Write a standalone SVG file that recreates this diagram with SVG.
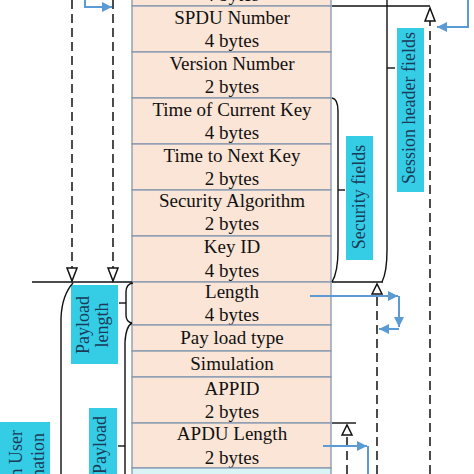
<svg xmlns="http://www.w3.org/2000/svg" width="474" height="474" viewBox="0 0 474 474">
<style>
.cell{fill:#FBE5D6;stroke:#8497B0;stroke-width:1.3}
.cellc{fill:#DAF3F5;stroke:#8497B0;stroke-width:1.3}
.t{font-family:"Liberation Serif","Times New Roman",serif;font-size:19px;fill:#111;text-anchor:middle}
.lbl{fill:#35CDE6}
.lt{font-family:"Liberation Serif","Times New Roman",serif;font-size:18px;fill:#1B3A57;text-anchor:middle}
.blk{fill:none;stroke:#111;stroke-width:1.4}
.dash{fill:none;stroke:#111;stroke-width:1.5;stroke-dasharray:9 5}
.blue{fill:none;stroke:#5B9BD5;stroke-width:2}
</style>
<defs>
<marker id="ab" markerUnits="userSpaceOnUse" markerWidth="12" markerHeight="10" refX="10" refY="5" orient="auto">
<path d="M0,0 L10,5 L0,10 z" fill="#5B9BD5"/>
</marker>
<marker id="tri" markerUnits="userSpaceOnUse" markerWidth="16" markerHeight="14" refX="14" refY="6" orient="auto">
<path d="M1,1 L14,6 L1,11 z" fill="#fff" stroke="#111" stroke-width="1.5"/>
</marker>
<marker id="tris" markerUnits="userSpaceOnUse" markerWidth="14" markerHeight="14" refX="11" refY="6" orient="auto">
<path d="M1,1 L11,6 L1,11 z" fill="#fff" stroke="#111" stroke-width="1.5"/>
</marker>
</defs>

<g id="row-prev"><rect class="cell" x="132" y="-40" width="199" height="46"/><text class="t" x="232" y="1">4 bytes</text></g>
<g id="row-spdu"><rect class="cell" x="132" y="6" width="199" height="46"/><text class="t" x="232" y="23.5">SPDU Number</text><text class="t" x="232" y="46.5">4 bytes</text></g>
<g id="row-version"><rect class="cell" x="132" y="52" width="199" height="46"/><text class="t" x="232" y="69.5">Version Number</text><text class="t" x="232" y="92.5">2 bytes</text></g>
<g id="row-tck"><rect class="cell" x="132" y="98" width="199" height="46"/><text class="t" x="232" y="115.5">Time of Current Key</text><text class="t" x="232" y="138.5">4 bytes</text></g>
<g id="row-tnk"><rect class="cell" x="132" y="144" width="199" height="46"/><text class="t" x="232" y="161.5">Time to Next Key</text><text class="t" x="232" y="184.5">2 bytes</text></g>
<g id="row-secalg"><rect class="cell" x="132" y="190" width="199" height="46"/><text class="t" x="232" y="207">Security Algorithm</text><text class="t" x="232" y="230">2 bytes</text></g>
<g id="row-keyid"><rect class="cell" x="132" y="236" width="199" height="46"/><text class="t" x="232" y="252.5">Key ID</text><text class="t" x="232" y="276.5">4 bytes</text></g>
<g id="row-length"><rect class="cell" x="132" y="282" width="199" height="43"/><text class="t" x="232" y="297.5">Length</text><text class="t" x="232" y="321">4 bytes</text></g>
<g id="row-ptype"><rect class="cell" x="132" y="325" width="199" height="26"/><text class="t" x="232" y="344">Pay load type</text></g>
<g id="row-sim"><rect class="cell" x="132" y="351" width="199" height="26"/><text class="t" x="232" y="370">Simulation</text></g>
<g id="row-appid"><rect class="cell" x="132" y="377" width="199" height="46"/><text class="t" x="232" y="395">APPID</text><text class="t" x="232" y="418">2 bytes</text></g>
<g id="row-apdulen"><rect class="cell" x="132" y="423" width="199" height="45"/><text class="t" x="232" y="440">APDU Length</text><text class="t" x="232" y="464">2 bytes</text></g>
<g id="row-next"><rect class="cellc" x="132" y="468" width="199" height="20"/></g>

<g id="label-session"><rect class="lbl" x="397" y="28" width="27" height="164"/><text class="lt" transform="translate(0,108) rotate(-90)" x="0" y="415">Session header fields</text></g>
<g id="label-security"><rect class="lbl" x="346" y="136" width="27" height="124"/><text class="lt" transform="translate(0,197) rotate(-90)" x="0" y="365">Security fields</text></g>
<g id="label-paylen"><rect class="lbl" x="71" y="285" width="47" height="79"/><text class="lt" transform="translate(0,325) rotate(-90)" x="0" y="89">Payload</text><text class="lt" transform="translate(0,325) rotate(-90)" x="0" y="108">length</text></g>
<g id="label-payload"><rect class="lbl" x="89" y="408" width="28" height="80"/><text class="lt" transform="translate(0,474) rotate(-90)" x="0" y="106" style="text-anchor:start">Payload</text></g>
<g id="label-appuser"><rect class="lbl" x="-10" y="422" width="60" height="66"/><text class="lt" transform="translate(0,430) rotate(-90)" x="0" y="22" style="text-anchor:end">n User</text><text class="lt" transform="translate(0,433) rotate(-90)" x="0" y="44" style="text-anchor:end">mation</text></g>

<g id="connectors">
<path class="blk" d="M332,6 H430"/>
<path class="blk" d="M32,282 H132"/>
<path class="blk" d="M332,282 H383"/>
<path class="blk" d="M332,423 H356"/>
<path class="blk" d="M387,0 V250 Q387,272 382,282"/>
<path class="blk" d="M387,68 H395"/>
<path class="blk" d="M332,98 Q338,99 338,111 V250 Q338,272 332,282"/>
<path class="blk" d="M338,190 H345"/>
<path class="blk" d="M133,283 Q126,284 126,292 V315 Q126,322 132,323"/>
<path class="blk" d="M126,303 H119"/>
<path class="blk" d="M132,323 Q126,326 125,342 V474"/>
<path class="blk" d="M125,446 H118"/>
<path class="blk" d="M73,283 Q62,295 61,318 V474"/>
<path class="dash" d="M72,0 V281" marker-end="url(#tri)"/>
<path class="dash" d="M113,0 V281" marker-end="url(#tri)"/>
<path class="dash" d="M430,474 V8" marker-end="url(#tri)"/>
<path class="dash" d="M377,474 V284" marker-end="url(#tris)"/>
<path class="dash" d="M347,474 V425" marker-end="url(#tris)"/>
<path class="blue" d="M85,0 V7 H112" marker-end="url(#ab)"/>
<path class="blue" d="M468,0 V27 H437" marker-end="url(#ab)"/>
<path class="blue" d="M310,296 H398" marker-end="url(#ab)"/>
<path class="blue" d="M399,296 V327" marker-end="url(#ab)"/>
<path class="blue" d="M399,329 H379" marker-end="url(#ab)"/>
<path class="blue" d="M323,446 H367" marker-end="url(#ab)"/>
<path class="blue" d="M368,446 V474"/>
</g>
</svg>
